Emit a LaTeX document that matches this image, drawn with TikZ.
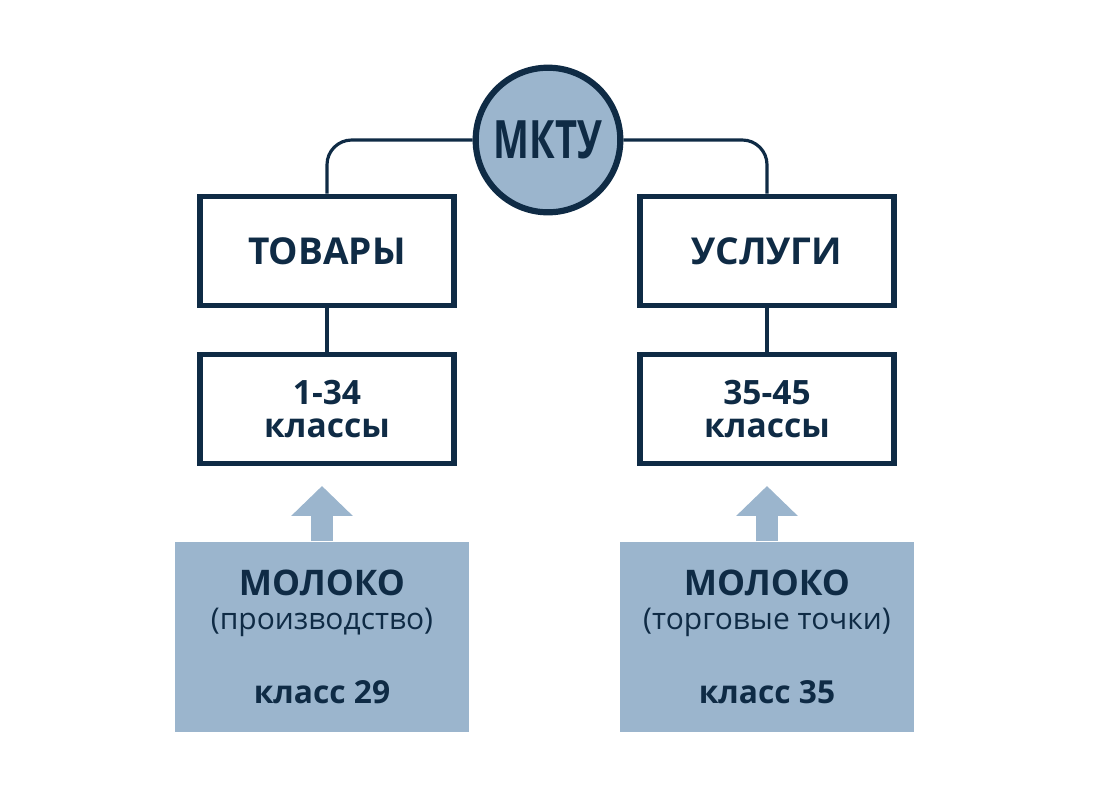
\documentclass[tikz,border=0pt]{standalone}
\usepackage{fontspec}
\setmainfont{Open Sans}
\usetikzlibrary{arrows.meta}
\definecolor{navy}{HTML}{0F2B45}
\definecolor{pale}{HTML}{9BB5CD}
\tikzset{
  box/.style={draw=navy, line width=3pt, minimum width=144pt, minimum height=62pt, align=center, text=navy, font=\fontsize{21}{25}\selectfont\bfseries},
  milk/.style={fill=pale, minimum width=167pt, minimum height=108pt, align=center, text=navy, inner sep=0pt, font=\fontsize{17}{20}\selectfont},
  link/.style={navy, line width=1.8pt},
  up/.style={pale, line width=12pt, -{Triangle[width=34pt,length=17pt]}}
}
\begin{document}
\begin{tikzpicture}[x=0.567pt,y=-0.567pt]
  \useasboundingbox (0,0) rectangle (1099,800);
  % top circle
  \node[circle, draw=navy, fill=pale, line width=3.5pt, minimum size=82pt, text=navy,
        font=\fontsize{30}{36}\selectfont\bfseries] (mktu) at (548,140) {\scalebox{0.72}[1]{МКТУ}};
  % classes
  \node[box] (goods) at (327,251) {ТОВАРЫ};
  \node[box] (serv) at (767,251) {УСЛУГИ};
  \node[box, font=\fontsize{19}{19}\selectfont\bfseries] (cl1) at (327,409) {1-34\\классы};
  \node[box, font=\fontsize{19}{19}\selectfont\bfseries] (cl2) at (767,409) {35-45\\классы};
  % examples
  \node[milk] (m1) at (322,637) {{\fontsize{20}{24}\selectfont\bfseries МОЛОКО}\\[-1pt]
     (производство)\\[22pt]{\fontsize{18}{22}\selectfont\bfseries класс 29}};
  \node[milk] (m2) at (767,637) {{\fontsize{20}{24}\selectfont\bfseries МОЛОКО}\\[-1pt]
     (торговые точки)\\[22pt]{\fontsize{18}{22}\selectfont\bfseries класс 35}};

  \draw[link, rounded corners=14pt] (mktu.west) -| (goods.north);
  \draw[link, rounded corners=14pt] (mktu.east) -| (serv.north);
  \draw[link] (goods) -- (cl1);
  \draw[link] (serv) -- (cl2);
  \draw[up] (m1.north) -- (322,486);
  \draw[up] (m2.north) -- (767,486);
\end{tikzpicture}
\end{document}
